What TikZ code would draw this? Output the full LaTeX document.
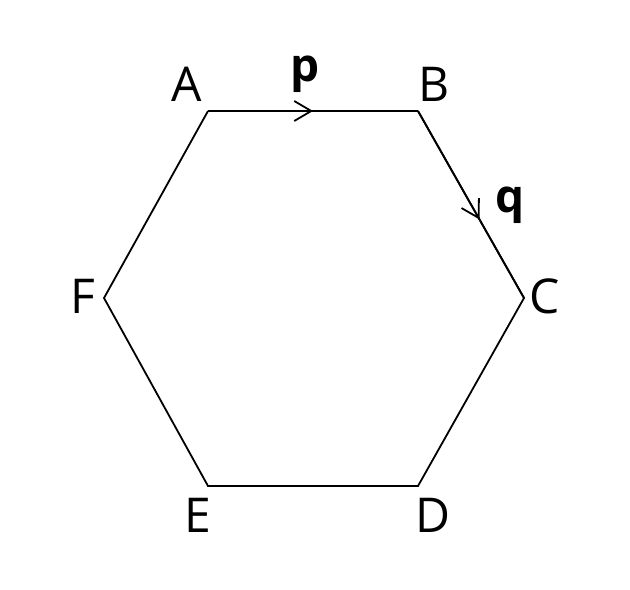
\documentclass[tikz,border=0pt]{standalone}
\usepackage{fontspec}
\setmainfont{Open Sans}
\usetikzlibrary{arrows.meta,decorations.markings}
\begin{document}
\begin{tikzpicture}[x=1bp,y=-1bp,
  lbl/.style={inner sep=0pt,anchor=base,font=\fontsize{48bp}{50bp}\selectfont},
  vec/.style={inner sep=0pt,anchor=base,font=\fontsize{46bp}{48bp}\selectfont\bfseries},
  edge/.style={line width=1.8bp,black},
  midarrow/.style={postaction={decorate},decoration={markings,mark=at position #1 with {\arrow{Straight Barb[length=17bp,width=20bp,line width=1.8bp]}}}}]
\useasboundingbox (0,0) rectangle (630,590);
\coordinate (A) at (208,111);
\coordinate (B) at (418,111);
\coordinate (C) at (524,298);
\coordinate (D) at (418,486);
\coordinate (E) at (208,486);
\coordinate (F) at (104,298);
\draw[edge,line join=miter] (B) -- (C) -- (D) -- (E) -- (F) -- (A);
\draw[edge,midarrow=0.5] (A) -- (B);
\draw[edge,midarrow=0.58] (B) -- (C);
\node[lbl] (lA) at (187,102) {A};
\node[lbl] (lB) at (434,102) {B};
\node[lbl] (lC) at (545,313) {C};
\node[lbl] (lD) at (433,532) {D};
\node[lbl] (lE) at (198,532) {E};
\node[lbl] (lF) at (83,313) {F};
\node[vec] (p) at (305,82) {p};
\node[vec] (q) at (510,212) {q};
\end{tikzpicture}
\end{document}
